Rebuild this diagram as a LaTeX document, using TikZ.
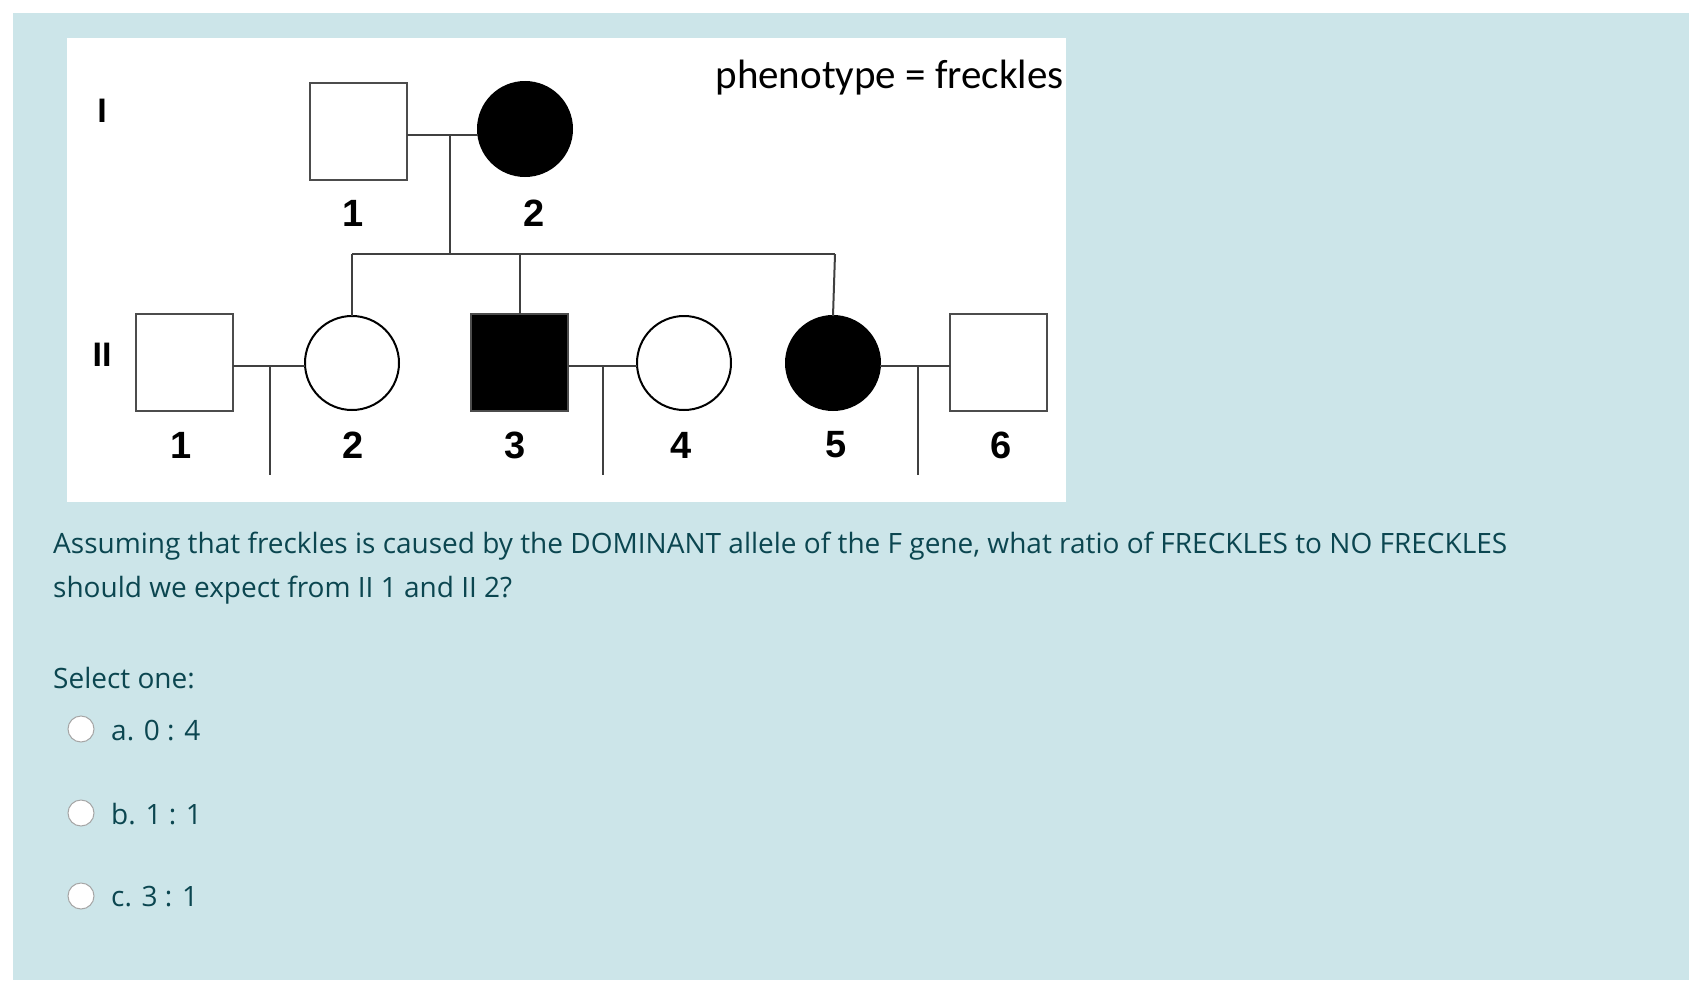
\documentclass[tikz,border=0pt]{standalone}
\usepackage{fontspec}
\setmainfont{Liberation Sans}
\newfontfamily\calib{Carlito}
\newfontfamily\qfont{Open Sans}
\begin{document}
\begin{tikzpicture}[x=1pt,y=-1pt,
  ln/.style={line width=2pt,draw=black!75},
  sq/.style={draw=black!70,line width=2pt,minimum size=97pt,inner sep=0,outer sep=0},
  ci/.style={circle,draw=black,line width=2pt,minimum size=94pt,inner sep=0,outer sep=0},
  num/.style={font=\fontsize{38}{40}\selectfont\bfseries},
  qt/.style={font=\qfont\fontsize{28}{32}\selectfont,text=qcol,anchor=west,inner sep=0},
  radio/.style={circle,draw=black!35,fill=white,line width=1pt,minimum size=26pt,inner sep=0}]
\definecolor{bg}{HTML}{CCE5E9}
\definecolor{qcol}{HTML}{0B4650}
\useasboundingbox (0,0) rectangle (1689,1001);
\fill[white] (0,0) rectangle (1689,1001);
\fill[bg] (13,13) rectangle (1689,980);
\fill[white] (67,38) rectangle (1066,502);
\node[font=\fontsize{34}{36}\selectfont\bfseries] (g1) at (102,111) {I};
\node[font=\fontsize{34}{36}\selectfont\bfseries] (g2) at (102,355) {II};
\node[font=\calib\fontsize{41}{44}\selectfont,anchor=east,inner sep=0] (ph) at (1064,78) {phenotype = freckles};
% gen I
\node[sq] (a1) at (358.5,131.5) {};
\node[ci,fill=black] (a2) at (525,129) {};
\coordinate (m1) at (450,135);
\draw[ln] (a1.east |- m1) -- (a2.west |- m1);
\coordinate (s1) at (450,254);
\draw[ln] (m1) -- (s1);
\node[num] (n11) at (353,213) {1};
\node[num] (n12) at (534,213) {2};
% gen II
\node[sq] (b1) at (184.5,362) {};
\node[ci] (b2) at (352,363) {};
\node[sq,fill=black] (b3) at (519.5,362) {};
\node[ci] (b4) at (684,363) {};
\node[ci,fill=black] (b5) at (833,363) {};
\node[sq] (b6) at (998.5,362) {};
\coordinate (sl) at (352,254);
\coordinate (sr) at (835,254);
\draw[ln] (sl) -- (sr);
\draw[ln] (sl) -- (b2.north);
\draw[ln] (b3.north |- sl) -- (b3.north);
\draw[ln] (sr) -- (b5.north);
\coordinate (c1) at (270,366);
\coordinate (c2) at (603,366);
\coordinate (c3) at (918,366);
\draw[ln] (b1.east |- c1) -- (b2.west |- c1);
\draw[ln] (c1) -- (270,475);
\draw[ln] (b3.east |- c2) -- (b4.west |- c2);
\draw[ln] (c2) -- (603,475);
\draw[ln] (b5.east |- c3) -- (b6.west |- c3);
\draw[ln] (c3) -- (918,475);
\node[num] (l1) at (181,445) {1};
\node[num] (l2) at (353,445) {2};
\node[num] (l3) at (515,445) {3};
\node[num] (l4) at (681,445) {4};
\node[num] (l5) at (836,445) {5};
\node[num] (l6) at (1001,445) {6};
% question
\node[qt] (q1) at (53,546) {Assuming that freckles is caused by the DOMINANT allele of the F gene, what ratio of FRECKLES to NO FRECKLES};
\node[qt] (q2) at (53,590) {should we expect from II 1 and II 2?};
\node[qt] (sel) at (53,678) {Select one:};
\node[radio] (ra) at (81,729) {};
\node[radio] (rb) at (81,813) {};
\node[radio] (rc) at (81,896) {};
\node[qt] (ta) at (111,731) {a. 0 : 4};
\node[qt] (tb) at (111,814) {b. 1 : 1};
\node[qt] (tc) at (111,897) {c. 3 : 1};
\end{tikzpicture}
\end{document}
